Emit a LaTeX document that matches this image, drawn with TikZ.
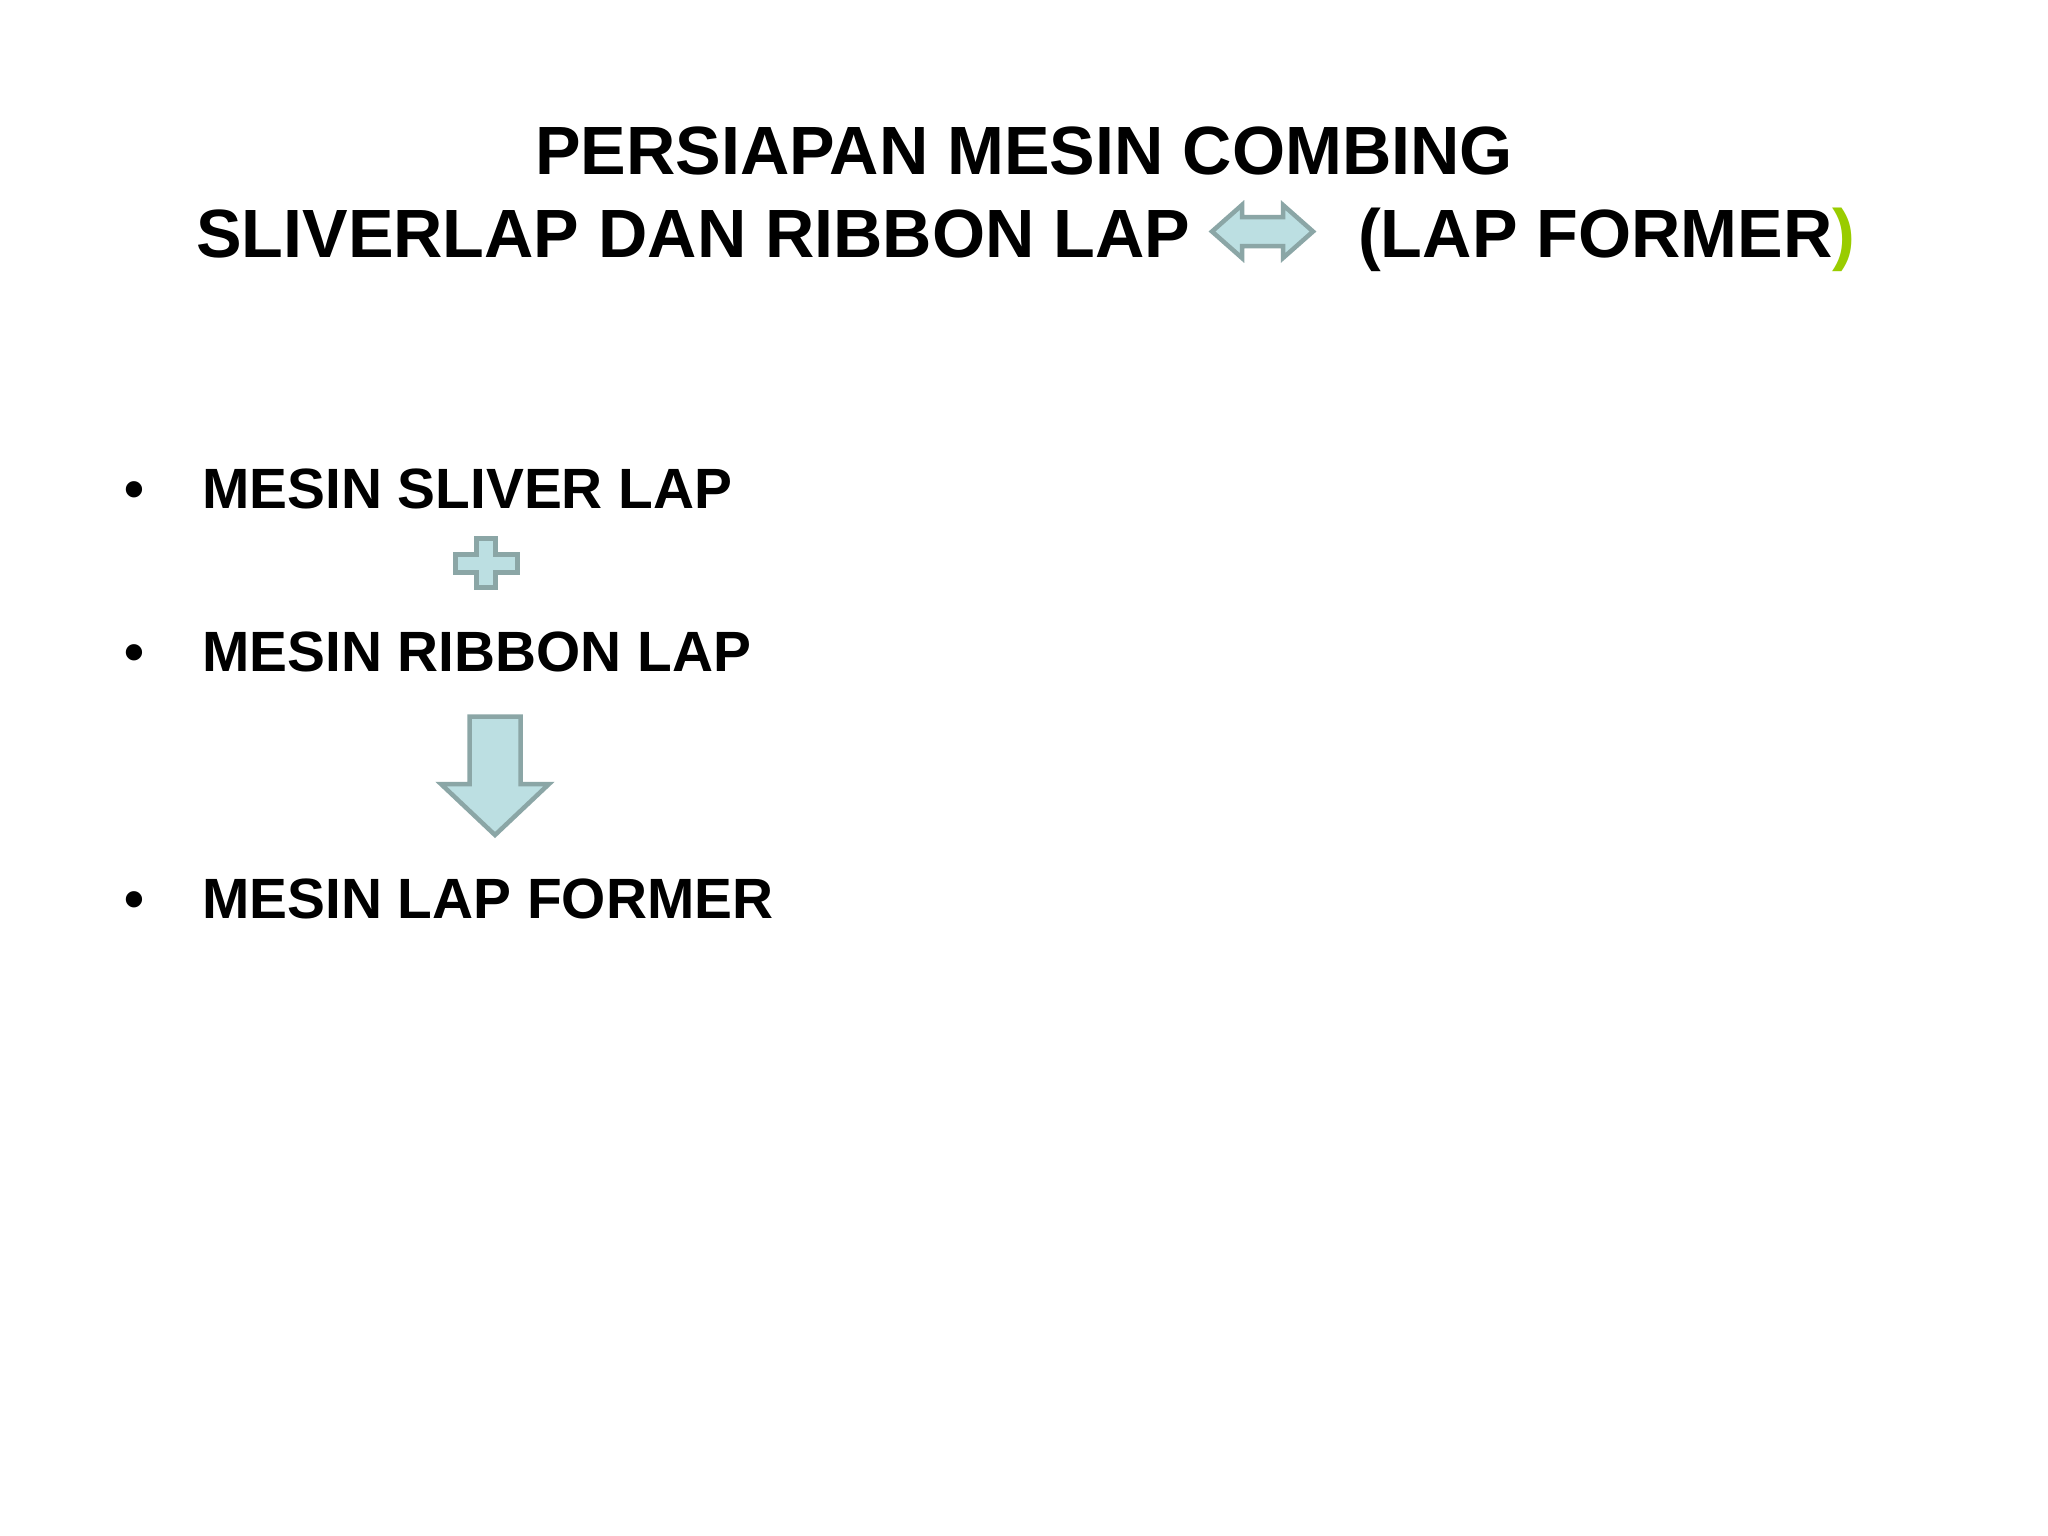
\documentclass[tikz,border=0pt]{standalone}
\usepackage{fontspec}
\setmainfont{Liberation Sans}
\definecolor{arrfill}{HTML}{BCDFE2}
\definecolor{arrline}{HTML}{8BA6A6}
\definecolor{limegreen}{HTML}{99CC00}
\begin{document}
\begin{tikzpicture}[x=1pt,y=-1pt,
  title/.style={inner sep=0pt,font=\fontsize{68.3}{80}\selectfont\bfseries},
  item/.style={inner sep=0pt,font=\fontsize{56.8}{70}\selectfont\bfseries,anchor=base west},
  shapeart/.style={fill=arrfill,draw=arrline,line width=4.5pt,line join=miter}]
\useasboundingbox[fill=white] (0,0) rectangle (2048,1536);
% title
\node[title,anchor=base] (t1) at (1024,175) {PERSIAPAN MESIN COMBING};
\node[title,anchor=base west] (t2a) at (196,257) {SLIVERLAP DAN RIBBON LAP};
\node[title,anchor=base west] (t2b) at (1358,257) {(LAP FORMER{\color{limegreen})}};
% double arrow
\draw[shapeart] (1212,231.5) -- (1242,205) -- (1242,217) -- (1283,217) -- (1283,205)
  -- (1313,231.5) -- (1283,258) -- (1283,246) -- (1242,246) -- (1242,258) -- cycle;
% bullets
\node[item] (b1) at (124,508) {•};
\node[item] (i1) at (202,508) {MESIN SLIVER LAP};
\node[item] (b2) at (124,671) {•};
\node[item] (i2) at (202,671) {MESIN RIBBON LAP};
\node[item] (b3) at (124,918) {•};
\node[item] (i3) at (202,918) {MESIN LAP FORMER};
% plus sign
\draw[shapeart] (476.5,538.5) -- (495.5,538.5) -- (495.5,554.5) -- (517.5,554.5) -- (517.5,572.5)
  -- (495.5,572.5) -- (495.5,587.5) -- (476.5,587.5) -- (476.5,572.5) -- (455.5,572.5)
  -- (455.5,554.5) -- (476.5,554.5) -- cycle;
% down arrow
\draw[shapeart] (469.5,716.5) -- (520.5,716.5) -- (520.5,784) -- (549,784) -- (495,835)
  -- (441,784) -- (469.5,784) -- cycle;
\end{tikzpicture}
\end{document}
